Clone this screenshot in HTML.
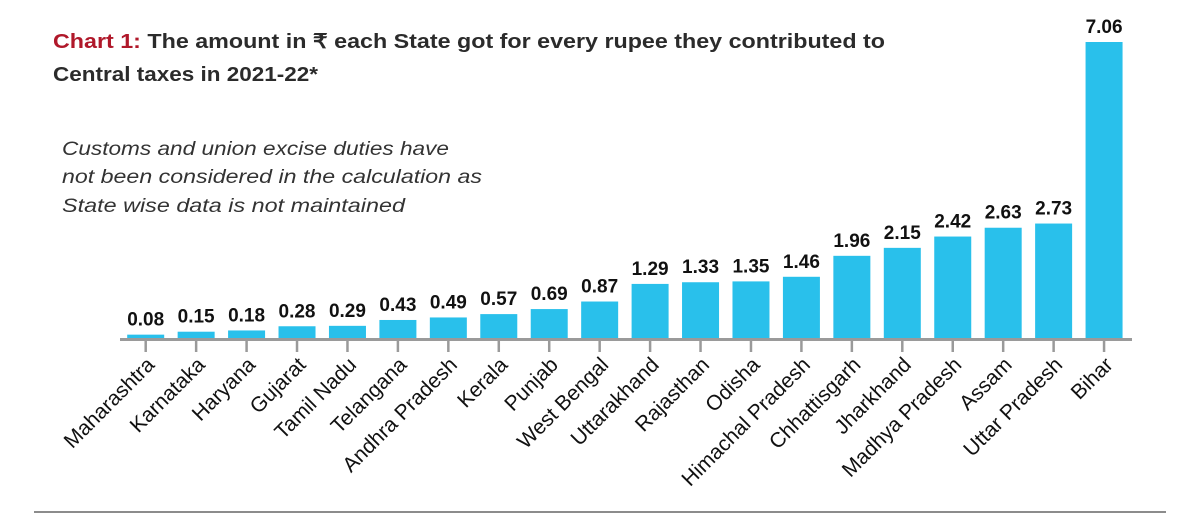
<!DOCTYPE html>
<html><head><meta charset="utf-8"><style>
html,body{margin:0;padding:0;background:#fff;}
svg{display:block;}
</style></head><body>
<svg id="chart" width="1200" height="525" xmlns="http://www.w3.org/2000/svg" font-family="'Liberation Sans', sans-serif">
<text x="53" y="48" font-size="20" font-weight="bold" fill="#2b2b2b" textLength="832" lengthAdjust="spacingAndGlyphs"><tspan fill="#b0182a">Chart 1:</tspan> The amount in ₹ each State got for every rupee they contributed to</text>
<text x="53" y="81" font-size="20" font-weight="bold" fill="#2b2b2b" textLength="265" lengthAdjust="spacingAndGlyphs">Central taxes in 2021-22*</text>
<g font-size="19" font-style="italic" fill="#333">
<text x="62" y="155" textLength="387" lengthAdjust="spacingAndGlyphs">Customs and union excise duties have</text>
<text x="62" y="183" textLength="420" lengthAdjust="spacingAndGlyphs">not been considered in the calculation as</text>
<text x="62" y="212" textLength="343" lengthAdjust="spacingAndGlyphs">State wise data is not maintained</text>
</g>
<g id="bars"></g>
<line x1="120" y1="339.5" x2="1132" y2="339.5" stroke="#9a9a9a" stroke-width="3"/>
<g id="ticks"></g>
<line x1="34" y1="512" x2="1166" y2="512" stroke="#666" stroke-width="1.5"/>
</svg>
<script>
const categories = ["Maharashtra","Karnataka","Haryana","Gujarat","Tamil Nadu","Telangana","Andhra Pradesh","Kerala","Punjab","West Bengal","Uttarakhand","Rajasthan","Odisha","Himachal Pradesh","Chhattisgarh","Jharkhand","Madhya Pradesh","Assam","Uttar Pradesh","Bihar"];
const values = [0.08,0.15,0.18,0.28,0.29,0.43,0.49,0.57,0.69,0.87,1.29,1.33,1.35,1.46,1.96,2.15,2.42,2.63,2.73,7.06];
const valueLabels = ["0.08","0.15","0.18","0.28","0.29","0.43","0.49","0.57","0.69","0.87","1.29","1.33","1.35","1.46","1.96","2.15","2.42","2.63","2.73","7.06"];

const NS = "http://www.w3.org/2000/svg";
const baseY = 338, x0 = 145.7, step = 50.44, barW = 37, pxPerUnit = 296/7.06;
function xScale(i){ return x0 + i*step; }
function yScale(v){ return baseY - v*pxPerUnit; }
const gb = document.getElementById('bars'), gt = document.getElementById('ticks');
categories.forEach((c,i)=>{
  const cx = xScale(i), y = yScale(values[i]);
  const r = document.createElementNS(NS,'rect');
  r.setAttribute('x', cx-barW/2); r.setAttribute('y', y);
  r.setAttribute('width', barW); r.setAttribute('height', baseY-y);
  r.setAttribute('fill', '#29c0eb');
  
  
  gb.appendChild(r);
  const t = document.createElementNS(NS,'text');
  t.setAttribute('x', cx); t.setAttribute('y', y-9);
  t.setAttribute('text-anchor','middle'); t.setAttribute('font-size','19');
  t.setAttribute('font-weight','bold'); t.setAttribute('fill','#111');
  t.textContent = valueLabels[i];
  
  
  gb.appendChild(t);
  const tk = document.createElementNS(NS,'line');
  tk.setAttribute('x1', cx); tk.setAttribute('x2', cx);
  tk.setAttribute('y1', 341); tk.setAttribute('y2', 352);
  tk.setAttribute('stroke','#9a9a9a'); tk.setAttribute('stroke-width','2.5');
  
  
  gt.appendChild(tk);
  const l = document.createElementNS(NS,'text');
  l.setAttribute('x', cx+10); l.setAttribute('y', 366);
  l.setAttribute('text-anchor','end'); l.setAttribute('font-size','21');
  l.setAttribute('fill','#111');
  l.setAttribute('transform', 'rotate(-45 '+(cx+10)+' 366)');
  l.textContent = c;
  
  
  gt.appendChild(l);
});
</script>
</body></html>
